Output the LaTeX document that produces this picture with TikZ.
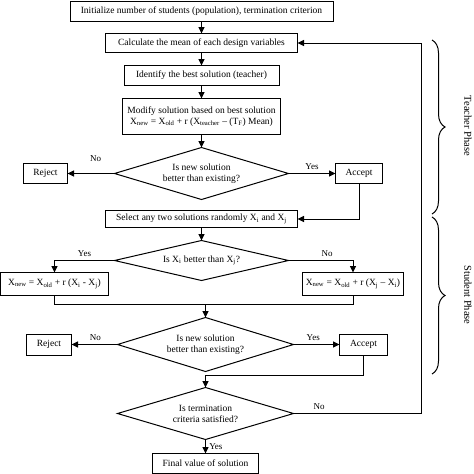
\documentclass[tikz,border=0pt]{standalone}
\usepackage{fontspec}
\setmainfont{Liberation Serif}
\usetikzlibrary{shapes.geometric, arrows.meta, positioning, decorations.pathreplacing}

\begin{document}
\begin{tikzpicture} [
						x=1pt, y=1pt,
						font=\fontsize{9.5}{11}\selectfont,
						block/.style={draw, rectangle, line width=1pt, inner sep=1pt, outer sep=0pt, minimum height=19pt, align=center},
						decision/.style={draw, diamond, aspect=3.3, line width=1pt, inner sep=0pt, outer sep=0pt, minimum width=174pt, minimum height=52pt, align=center},
						line/.style={draw, line width=1pt},
						arrow/.style={line, -{Triangle[length=6.5pt, width=6pt]}},
						lbl/.style={font=\fontsize{9}{10}\selectfont},
						phase/.style={decorate, decoration={brace, amplitude=13pt}, line width=1pt}
					]

\useasboundingbox (0,0) rectangle (474,-474);

\node (init) [block, minimum width=263pt, minimum height=20pt] at (201.5,-11.5) {Initialize number of students (population), termination criterion};
\node (calc) [block, minimum width=192pt, below=12pt of init] {Calculate the mean of each design variables};
\node (ident) [block, minimum width=155pt, minimum height=20pt, below=13pt of calc] {Identify the best solution (teacher)};
\node (modify) [block, minimum width=158pt, minimum height=36pt, below=13pt of ident] {Modify solution based on best solution\\X\textsubscript{new} = X\textsubscript{old} + r (X\textsubscript{teacher} -- (T\textsubscript{F}) Mean)};
\node (dec1) [decision, below=13pt of modify] {Is new solution\\better than existing?};
\node (reject1) [block, minimum width=44pt, minimum height=20pt, left=47pt of dec1] {Reject};
\node (accept1) [block, minimum width=47pt, minimum height=20pt, right=47pt of dec1] {Accept};
\node (select) [block, minimum width=192pt, minimum height=17pt, below=11pt of dec1] {Select any two solutions randomly X\textsubscript{i} and X\textsubscript{j}};
\node (dec2) [decision, minimum height=40pt, below=13pt of select] {Is X\textsubscript{i} better than X\textsubscript{j}?};
\node (leftf) [block, minimum width=108pt, minimum height=23pt, below left=12pt and 6pt of dec2.west] {X\textsubscript{new} = X\textsubscript{old} + r (X\textsubscript{i} - X\textsubscript{j})};
\node (rightf) [block, minimum width=101pt, minimum height=23pt, below right=12pt and 14pt of dec2.east] {X\textsubscript{new} = X\textsubscript{old} + r (X\textsubscript{j} -- X\textsubscript{i})};
\node (dec3) [decision, minimum width=176pt, minimum height=54pt, below=37pt of dec2, xshift=4pt] {Is new solution\\better than existing?};
\node (reject2) [block, minimum width=45pt, minimum height=21pt, left=46pt of dec3] {Reject};
\node (accept2) [block, minimum width=48pt, minimum height=21pt, right=46pt of dec3] {Accept};
\node (dec4) [decision, minimum width=176pt, below=16pt of dec3] {Is termination\\criteria satisfied?};
\node (final) [block, minimum width=106pt, minimum height=20pt, below=14pt of dec4] {Final value of solution};

\path (leftf.south) ++(0,-9) coordinate (mergeA);
\path (dec4.north) ++(0,12) coordinate (mergeB);
\coordinate (loopR) at (421,0);

\path[arrow]
	(init) edge (calc)
	(calc) edge (ident)
	(ident) edge (modify)
	(modify) edge (dec1)
	(dec1) edge node [lbl, above, pos=0.4, yshift=8pt] {No} (reject1)
	(dec1) edge node [lbl, above, pos=0.5] {Yes} (accept1)
	(select) edge (dec2)
	(dec3) edge node [lbl, above, pos=0.48] {No} (reject2)
	(dec3) edge node [lbl, above, pos=0.43] {Yes} (accept2)
	(dec4) edge node [lbl, right, pos=0.5] {Yes} (final);

\draw[arrow] (accept1.south) |- (select.east);
\draw[arrow] (dec2.west) -| node [lbl, above, pos=0.25] {Yes} (leftf.north);
\draw[arrow] (dec2.east) -| node [lbl, above, pos=0.3] {No} (rightf.north);
\draw[line] (leftf.south) -- (mergeA) -| (rightf.south);
\draw[arrow] (mergeA -| dec3.north) -- (dec3.north);
\draw[arrow] (accept2.south) |- (mergeB) -- (dec4.north);
\draw[arrow] (dec4.east) -- node [lbl, above, pos=0.2] {No} (dec4.east -| loopR) |- (calc.east);

\coordinate (teacherTop) at (432,-40);
\coordinate (teacherBot) at (432,-214);
\coordinate (studentTop) at (432,-217);
\coordinate (studentBot) at (432,-374);
\draw[phase] (teacherTop) -- (teacherBot);
\draw[phase] (studentTop) -- (studentBot);
\node (teacherlbl) [rotate=-90, font=\fontsize{10.5}{12}\selectfont] at (468,-126) {Teacher Phase};
\node (studentlbl) [rotate=-90, font=\fontsize{10.5}{12}\selectfont] at (468,-295) {Student Phase};
\end{tikzpicture}
\end{document}
